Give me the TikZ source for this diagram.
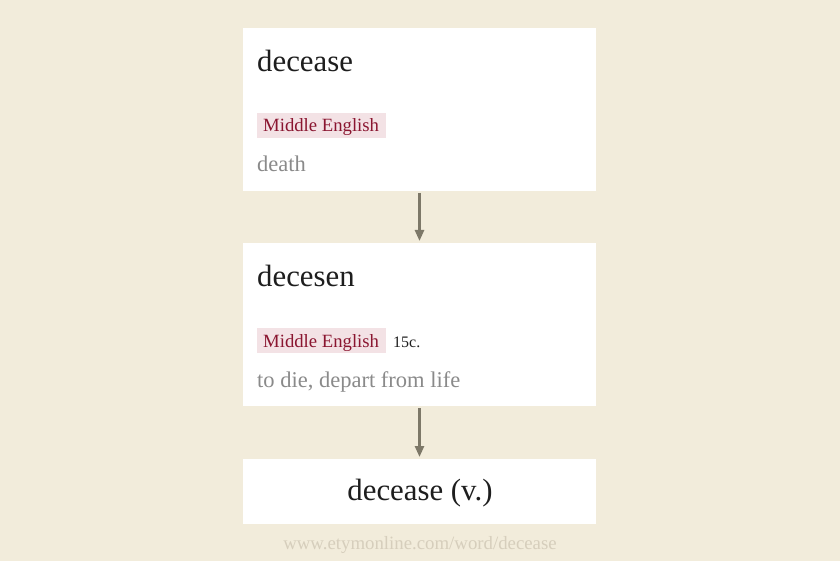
\documentclass[tikz,border=0pt]{standalone}
\usepackage{fontspec}
\setmainfont{Liberation Serif}
\usetikzlibrary{arrows.meta}
\definecolor{bg}{HTML}{F2ECDB}
\definecolor{tagfill}{HTML}{F3E2E5}
\definecolor{tagtext}{HTML}{8A1530}
\definecolor{desc}{HTML}{8A8A8A}
\definecolor{arrowc}{HTML}{7D7868}
\definecolor{foot}{HTML}{D6CEBC}
\definecolor{ink}{HTML}{1E1E1E}
\tikzset{
  box/.style={fill=white, draw=none, minimum width=353pt, inner sep=0pt, outer sep=0pt},
  title/.style={anchor=base west, inner sep=0pt, text=ink, font=\fontsize{30.8}{31}\selectfont},
  tag/.style={anchor=base west, fill=tagfill, text=tagtext, inner xsep=6.5pt, inner ysep=0pt,
     text height=19pt, text depth=6pt, font=\fontsize{18.7}{20}\selectfont},
  date/.style={anchor=base west, inner sep=0pt, text=ink, font=\fontsize{16}{17}\selectfont},
  desctext/.style={anchor=base west, inner sep=0pt, text=desc, font=\fontsize{22.5}{23}\selectfont},
  arr/.style={draw=arrowc, line width=2.5pt, -{Triangle[length=11pt, width=9pt]}, shorten <=2pt, shorten >=2pt},
}
\begin{document}
\begin{tikzpicture}[x=1pt, y=-1pt]
\fill[bg] (0,0) rectangle (840,561);
\useasboundingbox (0,0) rectangle (840,561);
% boxes
\node[box, minimum height=163pt] (b1) at (419.5,109.5) {};
\node[box, minimum height=163pt] (b2) at (419.5,324.5) {};
\node[box, minimum height=65pt] (b3) at (419.5,491.5) {};
% box 1
\node[title] (t1) at (257,72) {decease};
\node[tag] (g1) at (256.5,132) {Middle English};
\node[desctext] (d1) at (257,172) {death};
% box 2
\node[title] (t2) at (257,286) {decesen};
\node[tag] (g2) at (256.5,347) {Middle English};
\node[date] (y2) at (393,347) {15c.};
\node[desctext] (d2) at (257,387) {to die, depart from life};
% box 3
\node[anchor=base, inner sep=0pt, text=ink, font=\fontsize{30.8}{31}\selectfont] (t3) at (420,500) {decease (v.)};
% footer
\node[anchor=base, inner sep=0pt, text=foot, font=\fontsize{18.8}{19}\selectfont] (ft) at (420,549) {www.etymonline.com/word/decease};
% arrows
\draw[arr] (b1.south) -- (b2.north);
\draw[arr] (b2.south) -- (b3.north);
\end{tikzpicture}
\end{document}
